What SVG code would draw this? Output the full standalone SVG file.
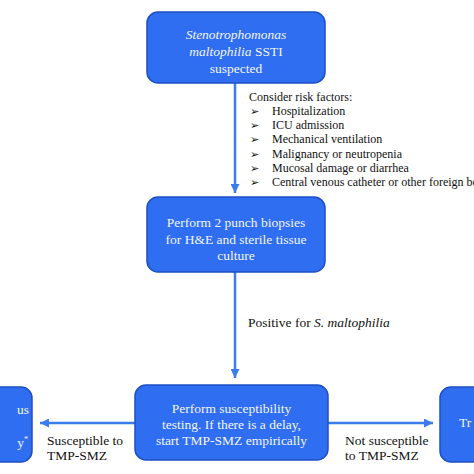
<svg xmlns="http://www.w3.org/2000/svg" width="474" height="474" viewBox="0 0 474 474" font-family="Liberation Serif, DejaVu Serif, serif">
<defs>
<style>
.box{fill:#2f6ef0;stroke:#1d4fc4;stroke-width:1.5}
.bt{font-size:13.5px;fill:#f2f5ff;text-anchor:middle}
.lt{font-size:13.5px;fill:#111}
.rt{font-size:12px;fill:#111}
.bul{font-size:11px;fill:#111}
.con{stroke:#3b7ded;stroke-width:2.5;fill:none}
</style>
<marker id="ah" viewBox="0 0 10 10" refX="10" refY="5" markerWidth="10" markerHeight="9" markerUnits="userSpaceOnUse" orient="auto">
<path d="M0,0 L10,5 L0,10 z" fill="#3b7ded"/>
</marker>
</defs>
<rect width="474" height="474" fill="#ffffff"/>
<g id="connectors">
<line class="con" x1="235" y1="83" x2="235" y2="193" marker-end="url(#ah)"/>
<line class="con" x1="235" y1="272" x2="235" y2="378" marker-end="url(#ah)"/>
<line class="con" x1="135" y1="423" x2="40" y2="423" marker-end="url(#ah)"/>
<line class="con" x1="328" y1="423" x2="433" y2="423" marker-end="url(#ah)"/>
</g>
<g id="node-suspected">
<rect class="box" x="147" y="12" width="178" height="71" rx="11"/>
<text class="bt" x="236" y="39" font-style="italic">Stenotrophomonas</text>
<text class="bt" x="236" y="56"><tspan font-style="italic">maltophilia</tspan> SSTI</text>
<text class="bt" x="236" y="73">suspected</text>
</g>
<g id="risk-factors">
<text class="rt" x="249" y="100.5">Consider risk factors:</text>
<text class="bul" x="250" y="114.8">➢</text><text class="rt" x="272" y="114.8">Hospitalization</text>
<text class="bul" x="250" y="129.1">➢</text><text class="rt" x="272" y="129.1">ICU admission</text>
<text class="bul" x="250" y="143.4">➢</text><text class="rt" x="272" y="143.4">Mechanical ventilation</text>
<text class="bul" x="250" y="157.7">➢</text><text class="rt" x="272" y="157.7">Malignancy or neutropenia</text>
<text class="bul" x="250" y="172">➢</text><text class="rt" x="272" y="172">Mucosal damage or diarrhea</text>
<text class="bul" x="250" y="186.3">➢</text><text class="rt" x="272" y="186.3">Central venous catheter or other foreign body</text>
</g>
<g id="node-biopsy">
<rect class="box" x="147" y="197" width="178" height="75" rx="11"/>
<text class="bt" x="236" y="227">Perform 2 punch biopsies</text>
<text class="bt" x="236" y="243.5">for H&amp;E and sterile tissue</text>
<text class="bt" x="236" y="260">culture</text>
</g>
<text class="lt" x="248" y="327">Positive for <tspan font-style="italic">S. maltophilia</tspan></text>
<g id="node-susceptibility">
<rect class="box" x="135" y="385" width="193" height="75" rx="11"/>
<text class="bt" x="231.5" y="413">Perform susceptibility</text>
<text class="bt" x="231.5" y="429">testing. If there is a delay,</text>
<text class="bt" x="231.5" y="445">start TMP-SMZ empirically</text>
</g>
<g id="node-left">
<rect class="box" x="-60" y="387" width="92" height="75" rx="11"/>
<text class="bt" x="29" y="414" style="text-anchor:end">us</text>
<text class="bt" x="28" y="447" style="text-anchor:end">y<tspan font-size="8" dy="-5">*</tspan></text>
</g>
<g id="node-right">
<rect class="box" x="440" y="387" width="90" height="75" rx="11"/>
<text class="bt" x="459" y="427" style="text-anchor:start">Tr</text>
</g>
<text class="lt" x="47" y="445">Susceptible to</text>
<text class="lt" x="47" y="460">TMP-SMZ</text>
<text class="lt" x="345" y="445">Not susceptible</text>
<text class="lt" x="345" y="460">to TMP-SMZ</text>
</svg>
